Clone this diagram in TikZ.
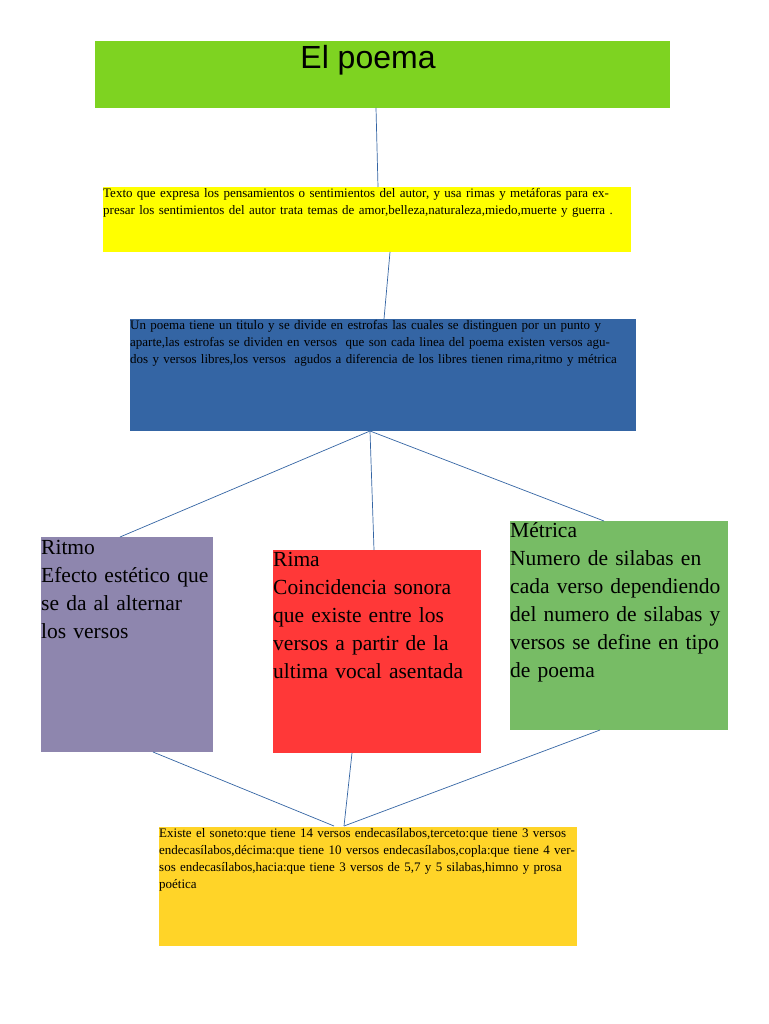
\documentclass[tikz,border=0pt]{standalone}
\usepackage{fontspec}
\setmainfont{Liberation Serif}
\setsansfont{Liberation Sans}
\definecolor{titlegreen}{HTML}{7ED321}
\definecolor{textyellow}{HTML}{FFFF00}
\definecolor{poemblue}{HTML}{3465A4}
\definecolor{ritmopurple}{HTML}{8E86AE}
\definecolor{rimared}{HTML}{FF3838}
\definecolor{metricagreen}{HTML}{77BC65}
\definecolor{tipogold}{HTML}{FFD428}
\definecolor{linkblue}{HTML}{3465A4}
\begin{document}
\begin{tikzpicture}[x=1pt,y=-1pt,
    box/.style={anchor=north west,inner sep=0pt,align=left},
    small/.style={font=\fontsize{13}{17}\selectfont},
    big/.style={font=\fontsize{21.5}{28}\selectfont},
    link/.style={draw=linkblue,line width=0.7pt}]
  \useasboundingbox (0,0) rectangle (768,1024);
  \fill[white] (0,0) rectangle (768,1024);
  % boxes
  \fill[titlegreen] (95,41) rectangle (670,108);
  \fill[textyellow] (103,187) rectangle (631,252);
  \fill[poemblue] (130,319) rectangle (636,431);
  \fill[ritmopurple] (41,537) rectangle (213,752);
  \fill[rimared] (273,550) rectangle (481,753);
  \fill[metricagreen] (510,521) rectangle (728,730);
  \fill[tipogold] (159,827) rectangle (577,946);
  % texts
  \node[anchor=north,inner sep=0pt,font=\sffamily\fontsize{32}{36}\selectfont] (titulo) at (368,45) {El poema};
  \node[box,small,text width=520pt] (texto) at (103,188)
    {Texto que expresa los pensamientos o sentimientos del autor, y usa rimas y metáforas para expresar los sentimientos del autor trata temas de amor,belleza,naturaleza,miedo,muerte y guerra .};
  \node[box,small,text width=500pt] (poema) at (130,320)
    {Un poema tiene un titulo y se divide en estrofas las cuales se distinguen por un punto y aparte,las estrofas se dividen en versos \ que son cada linea del poema existen versos agudos y versos libres,los versos \ agudos a diferencia de los libres tienen rima,ritmo y métrica};
  \node[box,big,text width=170pt] (ritmo) at (41,540)
    {Ritmo\\Efecto estético que se da al alternar los versos};
  \node[box,big,text width=205pt] (rima) at (273,552)
    {Rima\\Coincidencia sonora que existe entre los versos a partir de la ultima vocal asentada};
  \node[box,big,text width=215pt] (metrica) at (510,522)
    {Métrica\\Numero de silabas en cada verso dependiendo del numero de silabas y versos se define en tipo de poema};
  \node[box,small,text width=418pt] (tipos) at (159,828)
    {Existe el soneto:que tiene 14 versos endecasílabos,terceto:que tiene 3 versos endecasílabos,décima:que tiene 10 versos endecasílabos,copla:que tiene 4 versos endecasílabos,hacia:que tiene 3 versos de 5,7 y 5 silabas,himno y prosa poética};
  % connector ends
  \coordinate (t1) at (376,108); \coordinate (t2) at (378,187);
  \coordinate (y1) at (390,252); \coordinate (y2) at (384,319);
  \coordinate (b1) at (370,431);
  \coordinate (r1) at (120,537); \coordinate (m1) at (374,550); \coordinate (e1) at (604,521);
  \coordinate (r2) at (153,752); \coordinate (m2) at (352,753); \coordinate (e2) at (600,730);
  \coordinate (z1) at (334,826); \coordinate (z2) at (344,826);
  % connectors
  \draw[link] (t1) -- (t2);
  \draw[link] (y1) -- (y2);
  \draw[link] (b1) -- (r1);
  \draw[link] (b1) -- (m1);
  \draw[link] (b1) -- (e1);
  \draw[link] (r2) -- (z1);
  \draw[link] (m2) -- (z2);
  \draw[link] (e2) -- (z2);
\end{tikzpicture}
\end{document}
